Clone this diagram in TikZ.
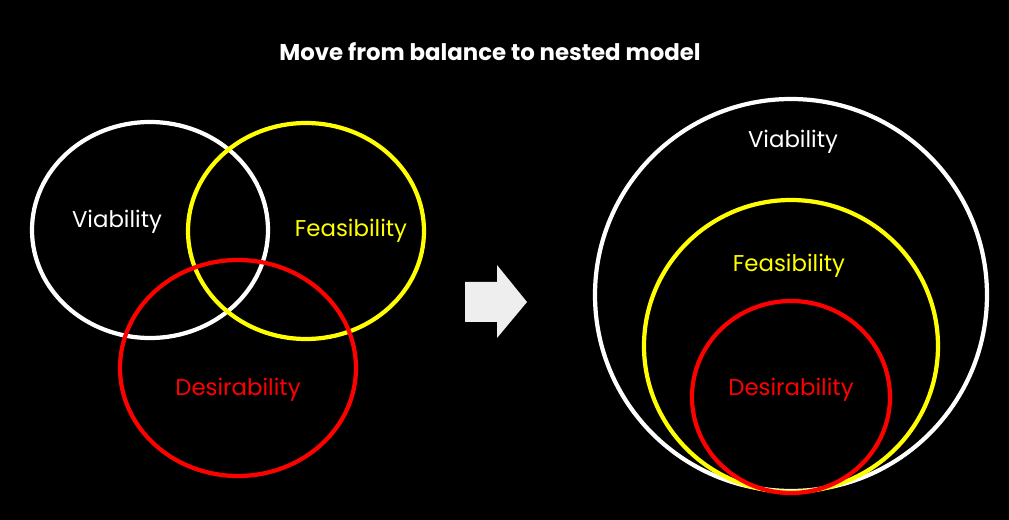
\documentclass[tikz,border=0pt]{standalone}
\usepackage{fontspec}
\setmainfont{Poppins}
\usetikzlibrary{positioning}
\definecolor{ringyellow}{RGB}{255,255,0}
\definecolor{ringred}{RGB}{255,0,0}
\definecolor{arrowgray}{RGB}{238,238,238}

\begin{document}
\begin{tikzpicture}[x=0.02cm, y=-0.02cm, font=\fontsize{13}{15}\selectfont]
      % styles
      \tikzstyle{ring}=[line width=2.4pt]
      \tikzstyle{lbl}=[inner sep=0pt]

      % background
      \fill[black] (0,0) rectangle (1009,520);
      \node[lbl,text=white,font=\bfseries\fontsize{13}{15}\selectfont] (title) at (490,52) {Move from balance to nested model};

      % balance model
      \draw[ring,white]       (150,230) ellipse [x radius=118, y radius=108];
      \draw[ring,ringyellow]  (306,231) ellipse [x radius=118, y radius=108];
      \draw[ring,ringred]     (238,368) ellipse [x radius=118, y radius=108];
      \node[lbl,text=white]      (viab)  at (117,222) {Viability};
      \node[lbl,text=ringyellow] (feas)  at (351,231) {Feasibility};
      \node[lbl,text=ringred]    (desi)  at (238,390) {Desirability};

      % arrow
      \fill[arrowgray] (465,282) -- (497,282) -- (497,265) -- (527,302)
                       -- (497,338) -- (497,322) -- (465,322) -- cycle;

      % nested model
      \draw[ring,white]      (791,295) ellipse [x radius=196, y radius=196];
      \draw[ring,ringyellow] (791,346) ellipse [x radius=147, y radius=146];
      \draw[ring,ringred]    (791,397) ellipse [x radius=99, y radius=96];
      \node[lbl,text=white]      (viab2) at (793,142) {Viability};
      \node[lbl,text=ringyellow] (feas2) at (789,266) {Feasibility};
      \node[lbl,text=ringred]    (desi2) at (791,390) {Desirability};
\end{tikzpicture}
\end{document}
